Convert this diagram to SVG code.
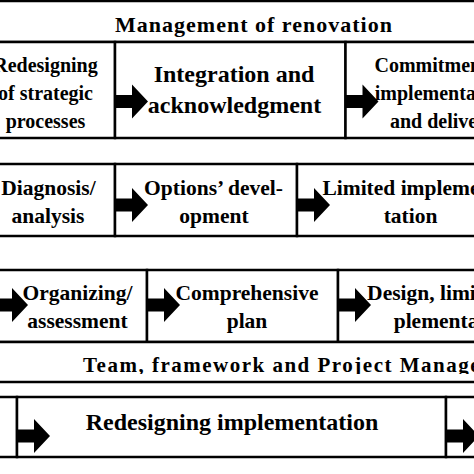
<svg xmlns="http://www.w3.org/2000/svg" width="474" height="474" viewBox="0 0 474 474">
<style>
.box{fill:#fff;stroke:#000;stroke-width:2.5}
text{font-family:"Liberation Serif","Times New Roman",serif;font-weight:bold;fill:#000}
.t20{font-size:20px;text-anchor:middle}
.t21{font-size:21.5px;text-anchor:middle}
.t24{font-size:24px;text-anchor:middle}
.arrow{fill:#000}
</style>
<defs>
<path id="arr" d="M0,-6.5 H17 V-17 L33,0 L17,17 V6.5 H0 Z"/>
<clipPath id="teamclip"><rect x="0" y="344" width="474" height="30"/></clipPath>
</defs>
<rect width="474" height="474" fill="#fff"/>

<g id="title">
<rect class="box" x="-10" y="1" width="494" height="41"/>
<text x="254" y="32" style="font-size:22px;letter-spacing:1px;text-anchor:middle">Management of renovation</text>
</g>

<g id="n-redesign-strategic">
<rect class="box" x="-100" y="42" width="215" height="96"/>
<text class="t20" x="45.5" y="72">Redesigning</text>
<text class="t20" x="45.5" y="100">of strategic</text>
<text class="t20" x="45.5" y="128">processes</text>
</g>
<g id="n-integration">
<rect class="box" x="115" y="42" width="230.5" height="96"/>
<text class="t24" x="234" y="82">Integration and</text>
<text class="t24" x="234.5" y="113">acknowledgment</text>
</g>
<g id="n-commitment">
<rect class="box" x="345.5" y="42" width="200" height="96"/>
<text class="t20" x="442" y="72">Commitment to</text>
<text class="t20" x="442" y="100">implementation</text>
<text class="t20" x="443" y="128">and delivery</text>
</g>

<g id="n-diagnosis">
<rect class="box" x="-100" y="164" width="215" height="72"/>
<text class="t21" x="48.5" y="195">Diagnosis/</text>
<text class="t21" x="48" y="223">analysis</text>
</g>
<g id="n-options">
<rect class="box" x="115" y="164" width="182" height="72"/>
<text class="t21" x="213.5" y="195">Options’ devel-</text>
<text class="t21" x="214" y="223">opment</text>
</g>
<g id="n-limited">
<rect class="box" x="297" y="164" width="250" height="72"/>
<text class="t21" x="410.5" y="195">Limited implemen-</text>
<text class="t21" x="410.5" y="223">tation</text>
</g>

<g id="n-organizing">
<rect class="box" x="-100" y="270" width="247" height="72"/>
<text class="t21" x="77.5" y="300">Organizing/</text>
<text class="t21" x="77.5" y="328">assessment</text>
</g>
<g id="n-comprehensive">
<rect class="box" x="147" y="270" width="191" height="72"/>
<text class="t21" x="247" y="300">Comprehensive</text>
<text class="t21" x="247" y="328">plan</text>
</g>
<g id="n-design">
<rect class="box" x="338" y="270" width="250" height="72"/>
<text class="t21" x="454" y="300">Design, limited im-</text>
<text class="t21" x="454" y="328">plementation</text>
</g>

<g id="team">
<rect class="box" x="-10" y="342" width="494" height="40"/>
<text x="83" y="372" clip-path="url(#teamclip)" style="font-size:21px;letter-spacing:1.5px">Team, framework and Project Management</text>
</g>

<g id="n-left-stub">
<rect class="box" x="-100" y="397" width="117" height="60"/>
</g>
<g id="n-redesign-impl">
<rect class="box" x="17" y="397" width="429" height="60"/>
<text class="t24" x="232" y="430">Redesigning implementation</text>
</g>
<g id="n-right-stub">
<rect class="box" x="446" y="397" width="100" height="60"/>
</g>

<g id="connectors" class="arrow">
<use href="#arr" transform="translate(115,101.5)"/>
<use href="#arr" transform="translate(345.5,101.5)"/>
<use href="#arr" transform="translate(115,205)"/>
<use href="#arr" transform="translate(297,205)"/>
<use href="#arr" transform="translate(-5,305)"/>
<use href="#arr" transform="translate(147,305)"/>
<use href="#arr" transform="translate(338,305)"/>
<use href="#arr" transform="translate(17,436)"/>
<use href="#arr" transform="translate(446,436)"/>
</g>
</svg>
